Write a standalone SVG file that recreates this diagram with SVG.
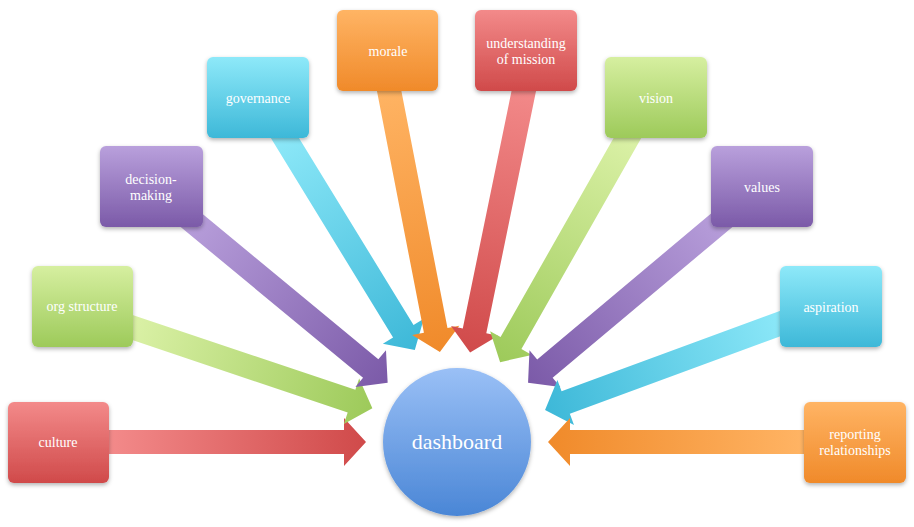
<svg xmlns="http://www.w3.org/2000/svg" width="914" height="527" viewBox="0 0 914 527">
<defs>
<filter id="sh" x="-20%" y="-20%" width="140%" height="140%"><feDropShadow dx="0" dy="2" stdDeviation="2" flood-color="#000" flood-opacity="0.3"/></filter>
<linearGradient id="bRed" x1="0" y1="0" x2="0" y2="1"><stop offset="0" stop-color="#f38a8a"/><stop offset="1" stop-color="#d04a4a"/></linearGradient>
<linearGradient id="bGreen" x1="0" y1="0" x2="0" y2="1"><stop offset="0" stop-color="#d6efa0"/><stop offset="1" stop-color="#9dca5a"/></linearGradient>
<linearGradient id="bPurple" x1="0" y1="0" x2="0" y2="1"><stop offset="0" stop-color="#b9a0dc"/><stop offset="1" stop-color="#7b5aa8"/></linearGradient>
<linearGradient id="bCyan" x1="0" y1="0" x2="0" y2="1"><stop offset="0" stop-color="#8ee9f9"/><stop offset="1" stop-color="#3db8d8"/></linearGradient>
<linearGradient id="bOrange" x1="0" y1="0" x2="0" y2="1"><stop offset="0" stop-color="#ffb464"/><stop offset="1" stop-color="#f08a2a"/></linearGradient>
<linearGradient id="aRed" x1="0" y1="0" x2="1" y2="0"><stop offset="0" stop-color="#f38a8a"/><stop offset="1" stop-color="#d04a4a"/></linearGradient>
<linearGradient id="aGreen" x1="0" y1="0" x2="1" y2="0"><stop offset="0" stop-color="#dcf2a8"/><stop offset="1" stop-color="#9dca5a"/></linearGradient>
<linearGradient id="aPurple" x1="0" y1="0" x2="1" y2="0"><stop offset="0" stop-color="#b9a0dc"/><stop offset="1" stop-color="#7b5aa8"/></linearGradient>
<linearGradient id="aCyan" x1="0" y1="0" x2="1" y2="0"><stop offset="0" stop-color="#8ee9f9"/><stop offset="1" stop-color="#3db8d8"/></linearGradient>
<linearGradient id="aOrange" x1="0" y1="0" x2="1" y2="0"><stop offset="0" stop-color="#ffb464"/><stop offset="1" stop-color="#f08a2a"/></linearGradient>
<linearGradient id="cBlue" x1="0" y1="0" x2="0" y2="1"><stop offset="0" stop-color="#9ac0f6"/><stop offset="1" stop-color="#4a86d6"/></linearGradient>
</defs>
<style>
text{font-family:"Liberation Serif","DejaVu Serif",serif;fill:#fff;font-size:14px;text-anchor:middle}
.box{filter:url(#sh)}
</style>
<g id="connectors">
<polygon fill="url(#aRed)" transform="translate(109,442) rotate(0)" points="0,-12 235,-12 235,-24 257,0 235,24 235,12 0,12"/>
<polygon fill="url(#aGreen)" transform="translate(125,325) rotate(18.6)" points="0,-12 239,-12 239,-24 261,0 239,24 239,12 0,12"/>
<polygon fill="url(#aPurple)" transform="translate(185,215) rotate(39.6)" points="0,-12 241,-12 241,-24 263,0 241,24 241,12 0,12"/>
<polygon fill="url(#aCyan)" transform="translate(280,130) rotate(58.5)" points="0,-12 236,-12 236,-24 258,0 236,24 236,12 0,12"/>
<polygon fill="url(#aOrange)" transform="translate(388,85) rotate(79)" points="0,-12 250,-12 250,-24 272,0 250,24 250,12 0,12"/>
<polygon fill="url(#aRed)" transform="translate(525,85) rotate(101.6)" points="0,-12 251,-12 251,-24 273,0 251,24 251,12 0,12"/>
<polygon fill="url(#aGreen)" transform="translate(632,130) rotate(119.6)" points="0,-12 245,-12 245,-24 267,0 245,24 245,12 0,12"/>
<polygon fill="url(#aPurple)" transform="translate(728,215) rotate(140)" points="0,-12 239,-12 239,-24 261,0 239,24 239,12 0,12"/>
<polygon fill="url(#aCyan)" transform="translate(790,320) rotate(159.8)" points="0,-12 239,-12 239,-24 261,0 239,24 239,12 0,12"/>
<polygon fill="url(#aOrange)" transform="translate(804,442) rotate(180)" points="0,-12 234,-12 234,-24 256,0 234,24 234,12 0,12"/>
</g>
<g id="dashboard"><circle cx="457" cy="442" r="74" fill="url(#cBlue)" class="box"/><text x="457" y="449" style="font-size:22px">dashboard</text></g>
<g id="culture"><rect class="box" x="8" y="402" width="101" height="81" rx="6" fill="url(#bRed)"/><text x="58" y="447">culture</text></g>
<g id="org-structure"><rect class="box" x="32" y="266" width="101" height="81" rx="6" fill="url(#bGreen)"/><text x="82" y="311">org structure</text></g>
<g id="decision-making"><rect class="box" x="100" y="146" width="103" height="81" rx="6" fill="url(#bPurple)"/><text x="151" y="184">decision-</text><text x="151" y="200">making</text></g>
<g id="governance"><rect class="box" x="207" y="57" width="102" height="81" rx="6" fill="url(#bCyan)"/><text x="258" y="103">governance</text></g>
<g id="morale"><rect class="box" x="337" y="10" width="101" height="81" rx="6" fill="url(#bOrange)"/><text x="388" y="56">morale</text></g>
<g id="understanding"><rect class="box" x="475" y="10" width="102" height="81" rx="6" fill="url(#bRed)"/><text x="526" y="48">understanding</text><text x="526" y="64">of mission</text></g>
<g id="vision"><rect class="box" x="605" y="57" width="102" height="81" rx="6" fill="url(#bGreen)"/><text x="656" y="103">vision</text></g>
<g id="values"><rect class="box" x="711" y="146" width="102" height="81" rx="6" fill="url(#bPurple)"/><text x="762" y="192">values</text></g>
<g id="aspiration"><rect class="box" x="780" y="266" width="102" height="81" rx="6" fill="url(#bCyan)"/><text x="831" y="312">aspiration</text></g>
<g id="reporting"><rect class="box" x="804" y="402" width="102" height="81" rx="6" fill="url(#bOrange)"/><text x="855" y="439">reporting</text><text x="855" y="455">relationships</text></g>
</svg>
